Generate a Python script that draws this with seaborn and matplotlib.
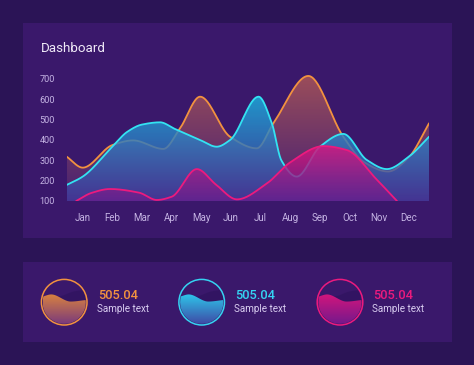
import numpy as np
import matplotlib
matplotlib.use("Agg")
import matplotlib.pyplot as plt
import seaborn as sns
from matplotlib.patches import Rectangle, Circle, Polygon
from matplotlib.colors import to_rgba

# ---------------- data ----------------
months = ["Jan", "Feb", "Mar", "Apr", "May", "Jun", "Jul", "Aug", "Sep", "Oct", "Nov", "Dec"]
yticks = [100, 200, 300, 400, 500, 600, 700]

orange_x = [-0.54, 0.0, 1.0, 1.7, 2.72, 3.28, 3.96, 4.97, 5.87, 6.43, 7.61, 8.79, 9.5, 10.3, 11.0, 11.68]
orange_y = [318, 264, 375, 398, 356, 457, 613, 416, 359, 482, 715, 416, 290, 245, 315, 482]

cyan_x = [-0.54, 0.0, 1.0, 1.5, 2.0, 2.61, 3.1, 3.96, 4.52, 4.97, 5.93, 6.38, 6.7, 7.22, 8.0, 8.79, 9.58, 10.26, 11.0, 11.68]
cyan_y = [179, 220, 367, 440, 476, 487, 455, 400, 367, 400, 613, 482, 300, 220, 367, 430, 302, 257, 318, 416]

pink_x = [-0.22, 0.3, 0.92, 1.9, 2.5, 3.0, 3.85, 4.5, 5.2, 6.2, 7.0, 8.12, 8.9, 9.92, 10.6]
pink_y = [100, 140, 159, 141, 105, 121, 257, 180, 108, 185, 290, 370, 351, 205, 100]

card_values = ["505.04", "505.04", "505.04"]
card_labels = ["Sample text", "Sample text", "Sample text"]

# ---------------- style ----------------
W, H = 474, 365
OUTER = "#2b1456"
PANEL = "#3a186b"
TITLE_C = "#efe9f7"
TICK_C = "#c4b3e3"
ORANGE = "#f2923f"
CYAN = "#33e3f2"
PINK = "#ec1a7e"

sns.set_theme(style="white")
plt.rcParams["font.family"] = ["Roboto", "DejaVu Sans"]


def pchip(x, y, xs):
    x = np.asarray(x, float)
    y = np.asarray(y, float)
    h = np.diff(x)
    delta = np.diff(y) / h
    n = len(x)
    d = np.zeros(n)
    for k in range(1, n - 1):
        if delta[k - 1] * delta[k] <= 0:
            d[k] = 0.0
        else:
            w1 = 2 * h[k] + h[k - 1]
            w2 = h[k] + 2 * h[k - 1]
            d[k] = (w1 + w2) / (w1 / delta[k - 1] + w2 / delta[k])
    d[0] = delta[0]
    d[-1] = delta[-1]
    idx = np.clip(np.searchsorted(x, xs) - 1, 0, n - 2)
    t = (xs - x[idx]) / h[idx]
    h00 = 2 * t**3 - 3 * t**2 + 1
    h10 = t**3 - 2 * t**2 + t
    h01 = -2 * t**3 + 3 * t**2
    h11 = t**3 - t**2
    return h00 * y[idx] + h10 * h[idx] * d[idx] + h01 * y[idx + 1] + h11 * h[idx] * d[idx + 1]


def gradient_fill(ax, x, y, base, top_c, bot_c, a_top, a_bot, z):
    poly = ax.fill_between(x, y, base, facecolor="none", edgecolor="none", zorder=z)
    path = poly.get_paths()[0]
    N = 256
    c0 = np.array(to_rgba(top_c))
    c1 = np.array(to_rgba(bot_c))
    t = np.linspace(0, 1, N)[:, None]
    cols = c0 * (1 - t) + c1 * t
    cols[:, 3] = a_top * (1 - t[:, 0]) + a_bot * t[:, 0]
    im = ax.imshow(cols.reshape(N, 1, 4), extent=[x.min(), x.max(), base, y.max()],
                   origin="upper", aspect="auto", zorder=z, interpolation="bilinear")
    im.set_clip_path(path, ax.transData)


fig = plt.figure(figsize=(W / 100, H / 100), dpi=100)
fig.patch.set_facecolor(OUTER)

# background / decoration axes in pixel coordinates
bg = fig.add_axes([0, 0, 1, 1], zorder=0)
bg.set_xlim(0, W)
bg.set_ylim(H, 0)
bg.axis("off")
bg.add_patch(Rectangle((22.7, 22.7), 429, 215.5, facecolor=PANEL, edgecolor="none"))
bg.add_patch(Rectangle((22.7, 261.7), 429, 80, facecolor=PANEL, edgecolor="none"))
bg.text(40.5, 48.5, "Dashboard", color=TITLE_C, fontsize=9.6, ha="left", va="center")

# ---------------- main chart ----------------
x0, x1 = 66.7, 429.0
ppv = 4.918  # value units per pixel
ymax = 730
ytop_px = 201 - (ymax - 100) / ppv
ax = fig.add_axes([x0 / W, 1 - 201 / H, (x1 - x0) / W, (201 - ytop_px) / H], zorder=1)
ax.set_facecolor("none")

series = [
    (orange_x, orange_y, ORANGE, "#a0505a", "#4a2474", 0.97, 0.85),
    (cyan_x, cyan_y, CYAN, "#1bb0de", "#443a9c", 0.84, 0.78),
    (pink_x, pink_y, PINK, "#d8157c", "#6a1f8e", 0.86, 0.72),
]
z = 2
for sx, sy, lc, tc, bc, at, ab in series:
    xs = np.linspace(min(sx), max(sx), 600)
    ys = pchip(sx, sy, xs)
    gradient_fill(ax, xs, ys, 100, tc, bc, at, ab, z)
    sns.lineplot(x=xs, y=ys, ax=ax, color=lc, linewidth=1.3, zorder=z + 1, sort=False)
    z += 2

ax.set_xlim(-0.54, 11.68)
ax.set_ylim(100, ymax)
ax.set_xticks(range(len(months)))
ax.set_xticklabels(months)
ax.set_yticks(yticks)
ax.set_yticklabels([str(v) for v in yticks])
ax.tick_params(axis="x", length=0, pad=8.3, labelsize=7, labelcolor=TICK_C)
ax.tick_params(axis="y", length=0, pad=8.4, labelsize=6.6, labelcolor=TICK_C)
for s in ax.spines.values():
    s.set_visible(False)
ax.grid(False)
ax.set_xlabel("")
ax.set_ylabel("")

# ---------------- cards ----------------
card_cx = [64.2, 201.7, 340.0]
card_cy = 302.2
card_r = 22.8
card_cols = [ORANGE, "#35d3f2", PINK]
card_top = ["#d9823f", "#2ec6ea", "#d3157c"]
card_bot = ["#7a3a7c", "#3e4aa6", "#74198c"]
u_pts = [-1.0, -0.6, 0.3, 1.0]
v_pts = [-0.26, -0.36, -0.03, -0.1]
u2_pts = [-1.0, -0.2, 0.45, 1.0]
v2_pts = [-0.22, -0.28, -0.5, -0.58]

for i in range(3):
    cx, r = card_cx[i], card_r
    rf = r - 1.2
    u = np.linspace(-1, 1, 200)
    s = np.sqrt(np.clip(1 - u**2, 0, None))
    # faint back wave
    w2 = pchip(u2_pts, v2_pts, u)
    top2 = np.maximum(w2, -s)
    pts2 = np.vstack([np.c_[cx + u * rf, card_cy + top2 * rf], np.c_[cx + u[::-1] * rf, card_cy + s[::-1] * rf]])
    bg.add_patch(Polygon(pts2, closed=True, facecolor="#2a1158", edgecolor="none", alpha=0.45, zorder=2))
    # main wave with gradient
    w = pchip(u_pts, v_pts, u)
    top = np.maximum(w, -s)
    pts = np.vstack([np.c_[cx + u * rf, card_cy + top * rf], np.c_[cx + u[::-1] * rf, card_cy + s[::-1] * rf]])
    poly = Polygon(pts, closed=True, facecolor="none", edgecolor="none", zorder=3)
    bg.add_patch(poly)
    N = 128
    c0 = np.array(to_rgba(card_top[i]))
    c1 = np.array(to_rgba(card_bot[i]))
    t = np.linspace(0, 1, N)[:, None]
    cols = c0 * (1 - t) + c1 * t
    im = bg.imshow(cols.reshape(N, 1, 4), extent=[cx - rf, cx + rf, card_cy + rf, card_cy + top.min() * rf],
                   origin="upper", aspect="auto", zorder=3, interpolation="bilinear")
    im.set_clip_path(poly)
    bg.add_patch(Circle((cx, card_cy), r, facecolor="none", edgecolor=card_cols[i], linewidth=1.1, zorder=4))
    bg.text(cx + 33.5, 295.3, card_values[i], color=card_cols[i], fontsize=9.3, fontweight="medium",
            ha="left", va="center", zorder=5)
    bg.text(cx + 32.5, 309.3, card_labels[i], color="#d8ccf0", fontsize=7.1, ha="left", va="center", zorder=5)

bg.set_xlim(0, W)
bg.set_ylim(H, 0)

fig.savefig("out.png", dpi=100, facecolor=OUTER)
